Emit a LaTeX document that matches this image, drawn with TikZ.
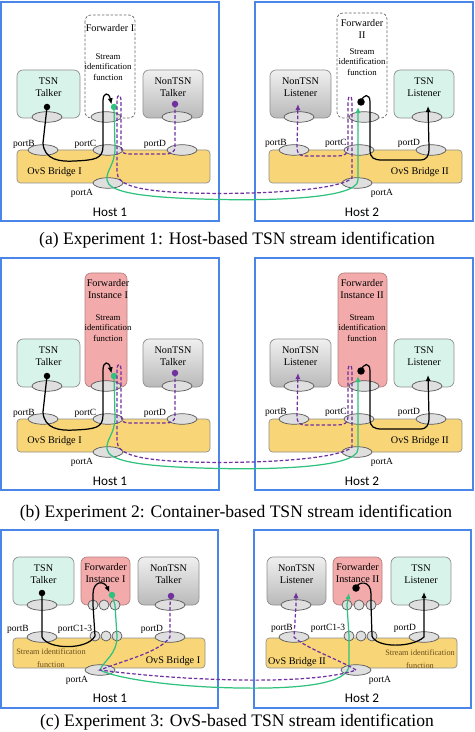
\documentclass[tikz,border=0pt]{standalone}
\usepackage{fontspec}
\setmainfont{Liberation Serif}
\newfontfamily\hostfont{Carlito}
\usetikzlibrary{shapes.geometric,arrows.meta}
\definecolor{hostblue}{HTML}{4A86E8}
\definecolor{tsnfill}{HTML}{D8F4EA}
\definecolor{fwdfill}{HTML}{F2AAAA}
\definecolor{ovsfill}{HTML}{F8D678}
\definecolor{tsngreen}{HTML}{2EC27E}
\definecolor{ntspurple}{HTML}{7030A0}
\definecolor{boxline}{HTML}{8F8F8F}
\definecolor{sifbrown}{HTML}{6B4E1A}
\tikzset{
  host/.style={draw=hostblue, line width=1.1pt},
  tsnbox/.style={draw=boxline, fill=tsnfill, rounded corners=3.5pt},
  ntsbox/.style={draw=boxline, top color=gray!12, bottom color=gray!55, rounded corners=3.5pt},
  fwdbox/.style={draw=fwdfill!75!black, fill=fwdfill, rounded corners=3.5pt},
  fwddash/.style={draw=gray!80!black, dash pattern=on 1.5pt off 1pt, rounded corners=3.5pt},
  ovs/.style={draw=boxline, fill=ovsfill, rounded corners=2pt},
  port/.style={ellipse, draw=gray!70!black, fill=gray!25, minimum width=0.6cm, minimum height=0.21cm, inner sep=0pt},
  subport/.style={circle, draw=gray!70!black, fill=gray!25, minimum size=0.2cm, inner sep=0pt},
  lbl/.style={font=\fontsize{5.8}{6.6}\selectfont, align=center, inner sep=0pt},
  sif/.style={font=\fontsize{5}{5.8}\selectfont, align=center, inner sep=0pt},
  plbl/.style={font=\fontsize{5.4}{6}\selectfont, inner sep=0pt},
  hostlbl/.style={font=\hostfont\fontsize{7.5}{8}\selectfont, inner sep=0pt},
  captext/.style={font=\fontsize{10}{11}\selectfont, inner sep=0pt},
  dot/.style={circle, inner sep=0pt, minimum size=0.13cm},
  arr/.style={-{Latex[length=3.5pt,width=3pt]}},
  tsn/.style={draw=black, line width=0.7pt, arr},
  gtsn/.style={draw=tsngreen, line width=0.7pt, arr},
  nts/.style={draw=ntspurple, line width=0.7pt, dash pattern=on 2pt off 1.2pt, arr},
}
\begin{document}
\begin{tikzpicture}[x=0.02cm, y=-0.02cm]
\useasboundingbox (0,0) rectangle (474,732);

% forwarders of (a) and (b)
\draw[fwddash] (85,15) rectangle (135,118);
\node[lbl] (fwdA1) at (110,28) {Forwarder I};
\node[sif] (sifA1) at (108,67) {Stream\\identification\\function};
\draw[fwddash] (337,13) rectangle (387,118);
\node[lbl] (fwdA2) at (362,29) {Forwarder\\II};
\node[sif] (sifA2) at (362,62) {Stream\\identification\\function};
\draw[fwdbox] (85,273) rectangle (127,387);
\node[lbl] (fwdB1) at (108,289) {Forwarder\\Instance I};
\node[sif] (sifB1) at (108,328) {Stream\\identification\\function};
\draw[fwdbox] (338,273) rectangle (387,387);
\node[lbl] (fwdB2) at (362,289) {Forwarder\\Instance II};
\node[sif] (sifB2) at (362,328) {Stream\\identification\\function};

% hosts of (a) and (b)
\foreach \oy/\hy in {0/2, 269/-11} {
\begin{scope}[shift={(0,\oy)}]
  \draw[host] (1,\hy) rectangle (219,221);
  \draw[host] (255,\hy) rectangle (473,221);
  % host 1
  \draw[tsnbox] (17,70) rectangle (80,118);
  \draw[ntsbox] (143,70) rectangle (203,118);
  \node[lbl] (tlk) at (48.5,87) {TSN\\Talker};
  \node[lbl] (ntlk) at (173,87) {NonTSN\\Talker};
  \draw[ovs] (17,150) rectangle (210,183);
  \node[lbl, anchor=west] (br1) at (27,172) {OvS Bridge I};
  \node[port] (eT) at (47,117) {};
  \node[port] (eF) at (106,117) {};
  \node[port] (eN) at (177,117) {};
  \node[port] (pB) at (43,150) {};
  \node[port] (pC) at (108,150) {};
  \node[port] (pD) at (182,150) {};
  \node[port] (pA) at (108,183) {};
  \node[plbl] (lB) at (24,144) {portB};
  \node[plbl] (lC) at (85.5,144) {portC};
  \node[plbl] (lD) at (155,144) {portD};
  \node[plbl] (lA) at (82,193) {portA};
  \node[hostlbl] (h1) at (110,212) {Host 1};
  % host 2
  \draw[ntsbox] (270,70) rectangle (331,118);
  \draw[tsnbox] (394,70) rectangle (454,118);
  \node[lbl] (nlst) at (300.5,87) {NonTSN\\Listener};
  \node[lbl] (lst) at (424,87) {TSN\\Listener};
  \draw[ovs] (269,150) rectangle (462,183);
  \node[lbl, anchor=east] (br2) at (449,172) {OvS Bridge II};
  \node[port] (eN2) at (299,117) {};
  \node[port] (eF2) at (364,117) {};
  \node[port] (eT2) at (427,117) {};
  \node[port] (pB2) at (294,150) {};
  \node[port] (pC2) at (359,150) {};
  \node[port] (pD2) at (431,150) {};
  \node[port] (pA2) at (357,183) {};
  \node[plbl] (lB2) at (276,143) {portB};
  \node[plbl] (lC2) at (336,143) {portC};
  \node[plbl] (lD2) at (409,143) {portD};
  \node[plbl] (lA2) at (382,193) {portA};
  \node[hostlbl] (h2) at (362,212) {Host 2};
  % end points and dots
  \coordinate (gEnd) at (358,107);
  \coordinate (kEnd) at (428,106);
  \coordinate (pEnd) at (298,104);
  \node[dot, fill=black] (dT) at (47,107) {};
  \node[dot, fill=tsngreen] (dG) at (114,107) {};
  \node[dot, fill=ntspurple] (dP) at (175,104) {};
  \node[dot, fill=black, minimum size=0.15cm] (dK) at (361,102) {};
  % streams
  \draw[tsn] (dT.center) -- (43,143) .. controls (44,160) and (60,162) .. (75,161) .. controls (95,160) and (103,159) .. (103,146) -- (103,101) .. controls (103,92) and (109,92) .. (dG.north west);
  \draw[gtsn] (dG.center) -- (115,148) .. controls (115,165) and (106,170) .. (107,180) .. controls (108,192) and (140,197) .. (200,199) .. controls (260,201) and (358,200) .. (358,180) -- (gEnd);
  \draw[nts] (dP.center) -- (175,146) .. controls (175,153) and (171,154) .. (165,154) -- (128,154) .. controls (122,154) and (121,150) .. (121,144) -- (121,100) .. controls (121,94) and (117,94) .. (117,100) -- (117,172) .. controls (117,186) and (140,191) .. (190,193) .. controls (260,195) and (340,190) .. (352,178) -- (352,101) .. controls (352,95) and (348,95) .. (348,101) -- (348,148) .. controls (348,154) and (344,156) .. (338,156) -- (305,156) .. controls (299,156) and (297,153) .. (297,147) -- (pEnd);
  \draw[tsn] (dK.center) .. controls (363,94) and (370,93) .. (370,102) -- (370,150) .. controls (370,158) and (374,160) .. (382,160) -- (420,160) .. controls (427,160) and (429,156) .. (429,148) -- (kEnd);
\end{scope}
}

% hosts of (c)
\draw[host] (1,530) rectangle (218,708);
\draw[host] (254,530) rectangle (471,708);
% host 1
\draw[tsnbox] (13,557) rectangle (74,605);
\draw[fwdbox] (81,557) rectangle (130,605);
\draw[ntsbox] (138,557) rectangle (199,605);
\node[lbl] (tlkC) at (43.5,574) {TSN\\Talker};
\node[lbl] (fwdC1) at (105.5,573) {Forwarder\\Instance I};
\node[lbl] (ntlkC) at (168.5,574) {NonTSN\\Talker};
\draw[ovs] (13,638) rectangle (205,668);
\node[sif, text=sifbrown, font=\fontsize{4.7}{7}\selectfont] (sifC1) at (51,658) {Stream identification\\function};
\node[lbl] (br1C) at (173,661) {OvS Bridge I};
\node[port] (eTc) at (42,605) {};
\node[port] (eNc) at (170,605) {};
\foreach \i/\x in {1/93,2/104,3/115} \node[subport] (fc\i) at (\x,605) {};
\foreach \i/\x in {1/95,2/106,3/117} \node[subport] (pc\i) at (\x,636) {};
\node[port] (pBc) at (42,637) {};
\node[port] (pDc) at (170,637) {};
\node[port] (pAc) at (100,670) {};
\node[plbl] (lBc) at (18,629) {portB};
\node[plbl] (lCc) at (75,629) {portC1-3};
\node[plbl] (lDc) at (152,629) {portD};
\node[plbl] (lAc) at (77,680) {portA};
\node[hostlbl] (h1c) at (110,698) {Host 1};
% host 2
\draw[ntsbox] (267,557) rectangle (326,605);
\draw[fwdbox] (333,557) rectangle (382,605);
\draw[tsnbox] (391,557) rectangle (451,605);
\node[lbl] (nlstC) at (296.5,574) {NonTSN\\Listener};
\node[lbl] (fwdC2) at (357.5,573) {Forwarder\\Instance II};
\node[lbl] (lstC) at (421,574) {TSN\\Listener};
\draw[ovs] (266,638) rectangle (457,668);
\node[sif, text=sifbrown, font=\fontsize{4.7}{7}\selectfont] (sifC2) at (420,659) {Stream identification\\function};
\node[lbl] (br2C) at (297,662) {OvS Bridge II};
\node[port] (eNb) at (296,605) {};
\node[port] (eTb) at (424,605) {};
\foreach \i/\x in {1/347,2/359,3/371} \node[subport] (fcb\i) at (\x,605) {};
\foreach \i/\x in {1/349,2/361,3/372} \node[subport] (pcb\i) at (\x,636) {};
\node[port] (pBb) at (294,637) {};
\node[port] (pDb) at (424,637) {};
\node[port] (pAb) at (356,670) {};
\node[plbl] (lBb) at (282,628) {portB};
\node[plbl] (lCb) at (328,628) {portC1-3};
\node[plbl] (lDb) at (405,628) {portD};
\node[plbl] (lAb) at (380,680) {portA};
\node[hostlbl] (h2c) at (362,698) {Host 2};
% end points and dots
\coordinate (gEndc) at (349,593);
\coordinate (kEndc) at (424,592);
\coordinate (pEndc) at (296,592);
\node[dot, fill=black] (dTc) at (42,593) {};
\node[dot, fill=tsngreen] (dGc) at (112,595) {};
\node[dot, fill=ntspurple] (dPc) at (171,596) {};
\node[dot, fill=black, minimum size=0.15cm] (dKc) at (356,588) {};
% streams
\draw[tsn] (dTc.center) -- (pBc.center) .. controls (48,650) and (88,650) .. (pc1.center) -- (fc1.center) -- (93,594) .. controls (93,581) and (104,580) .. (dGc.north west);
\draw[gtsn] (dGc.center) -- (fc3.center) -- (pc3.center) .. controls (117,655) and (104,660) .. (pAc.center) .. controls (115,678) and (170,687) .. (240,688) .. controls (300,689) and (349,684) .. (349,665) -- (pcb1.center) -- (fcb1.center) -- (gEndc);
\draw[nts] (dPc.center) -- (eNc.center) -- (pDc.center) .. controls (160,652) and (125,660) .. (pAc.center) .. controls (130,674) and (180,679) .. (240,680) .. controls (300,681) and (340,676) .. (pAb.center) .. controls (340,660) and (305,648) .. (pBb.center) -- (eNb.center) -- (pEndc);
\draw[tsn] (dKc.center) .. controls (358,581) and (371,580) .. (371,594) -- (fcb3.center) -- (pcb3.center) .. controls (376,648) and (412,648) .. (pDb.center) -- (eTb.center) -- (kEndc);

% captions
\node[captext] (capA) at (237,240) {(a) Experiment 1: Host-based TSN stream identification};
\node[captext] (capB) at (236,513) {(b) Experiment 2: Container-based TSN stream identification};
\node[captext] (capC) at (237,722) {(c) Experiment 3: OvS-based TSN stream identification};
\end{tikzpicture}
\end{document}
